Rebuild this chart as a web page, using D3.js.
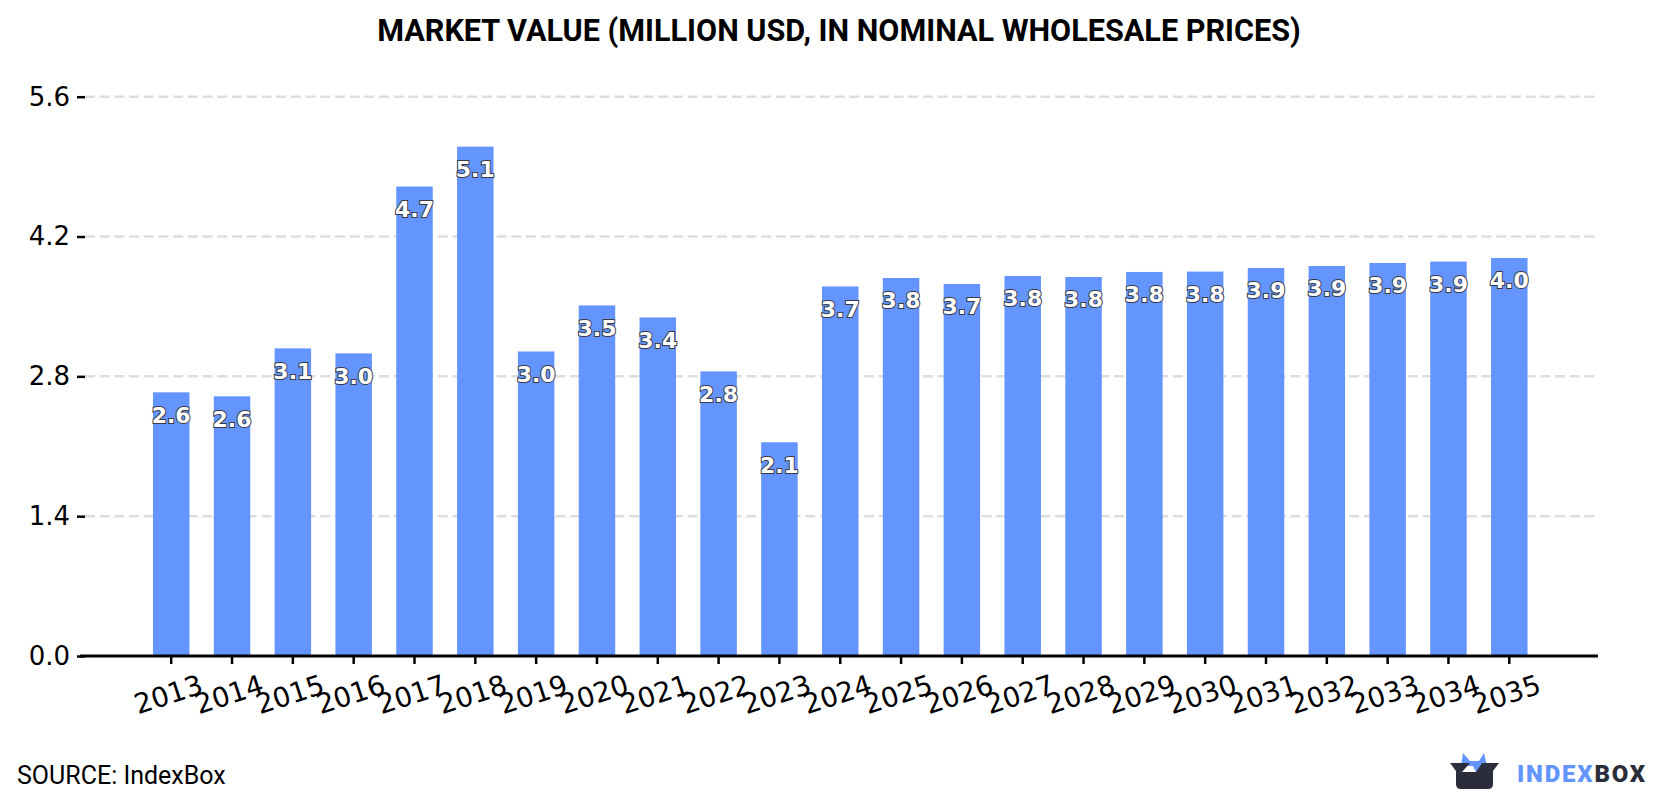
<!DOCTYPE html>
<html>
<head>
<meta charset="utf-8">
<script src="https://cdn.jsdelivr.net/npm/d3@7"></script>
<style>
  html, body { margin: 0; padding: 0; background: #fff; }
  svg { display: block; }
  .tick-label { font-family: "DejaVu Sans", sans-serif; fill: #000; }
  .bar-label { font-family: "DejaVu Sans", sans-serif; font-weight: 700; font-size: 22px;
               fill: #fff; stroke: #3a3a44; stroke-width: 2px; paint-order: stroke; }
</style>
</head>
<body>
<svg id="chart" width="1680" height="800"></svg>
<script>
const years = [2013, 2014, 2015, 2016, 2017, 2018, 2019, 2020, 2021, 2022, 2023, 2024,
               2025, 2026, 2027, 2028, 2029, 2030, 2031, 2032, 2033, 2034, 2035];
const marketValue = [2.64, 2.60, 3.08, 3.03, 4.70, 5.10, 3.049, 3.51, 3.39, 2.849, 2.14, 3.70,
                     3.785, 3.725, 3.805, 3.795, 3.845, 3.849, 3.885, 3.905, 3.935, 3.949, 3.985];
const yTicks = [0, 1.4, 2.8, 4.2, 5.6];
const titleText = "MARKET VALUE (MILLION USD, IN NOMINAL WHOLESALE PRICES)";
const sourceText = "SOURCE: IndexBox";

const svg = d3.select("#chart");
const fmt = d3.format(".1f");

const x = d3.scaleBand()
  .domain(years)
  .range([140.8, 1539.7])
  .paddingInner(0.4)
  .paddingOuter(0.2);

const y = d3.scaleLinear().domain([0, 5.6]).range([656, 96.7]);

const plotLeft = 85, plotRight = 1597;

// Dashed horizontal gridlines sit behind the bars
svg.append("g").selectAll("line")
  .data(yTicks.filter(d => d > 0))
  .join("line")
  .attr("x1", plotLeft).attr("x2", plotRight)
  .attr("y1", d => y(d)).attr("y2", d => y(d))
  .attr("stroke", "#dedede")
  .attr("stroke-width", 2.5)
  .attr("stroke-dasharray", "10 4.7");

// Bars
svg.append("g").selectAll("rect")
  .data(marketValue)
  .join("rect")
  .attr("x", (d, i) => x(years[i]))
  .attr("width", x.bandwidth())
  .attr("y", d => y(d))
  .attr("height", d => y(0) - y(d))
  .attr("fill", "#6495ff");

// Left axis
const yAxis = svg.append("g")
  .attr("transform", `translate(${plotLeft},0)`)
  .call(d3.axisLeft(y).tickValues(yTicks).tickFormat(fmt).tickSize(8).tickPadding(7));
yAxis.select(".domain").remove();
yAxis.selectAll(".tick line").attr("stroke", "#000").attr("stroke-width", 2.5);
yAxis.selectAll(".tick text")
  .attr("class", "tick-label")
  .style("font-size", "26px")
  .attr("fill", "#000");

// Bottom axis with slanted year labels
const xAxis = svg.append("g")
  .attr("transform", `translate(0,${y(0)})`)
  .call(d3.axisBottom(x).tickSize(8).tickSizeOuter(0).tickPadding(0));
xAxis.select(".domain").remove();
xAxis.selectAll(".tick line").attr("stroke", "#000").attr("stroke-width", 2.5);
xAxis.selectAll(".tick text")
  .attr("class", "tick-label")
  .style("font-size", "27.5px")
  .attr("dy", null)
  .attr("text-anchor", "middle")
  .attr("dominant-baseline", "central")
  .attr("transform", "translate(-3,38) rotate(-18)")
  .attr("y", 0);
xAxis.append("line")
  .attr("x1", 80).attr("x2", plotRight + 1)
  .attr("stroke", "#000").attr("stroke-width", 3);

// Value labels inside each bar
svg.append("g").selectAll("text")
  .data(marketValue)
  .join("text")
  .attr("class", "bar-label")
  .attr("x", (d, i) => x(years[i]) + x.bandwidth() / 2)
  .attr("y", d => y(d) + 23)
  .attr("text-anchor", "middle")
  .attr("dominant-baseline", "central")
  .text(d => fmt(d));

// Title and source note
svg.append("text")
  .attr("x", 839).attr("y", 41)
  .attr("text-anchor", "middle")
  .style("font-family", "Roboto, sans-serif")
  .style("font-weight", 700)
  .style("font-size", "30.6px")
  .attr("fill", "#000")
  .text(titleText);

svg.append("text")
  .attr("x", 17).attr("y", 784)
  .style("font-family", "Roboto, sans-serif")
  .style("font-size", "25px")
  .attr("fill", "#000")
  .text(sourceText);

// IndexBox brand mark: blue crown rising out of a dark box
const logo = svg.append("g");
logo.append("path")
  .attr("d", "M1461 766 L1463 753 L1470 761 L1479 761 L1484 753 L1487 766 L1486 772 L1476 772 L1473 766 Z")
  .attr("fill", "#6495ff");
logo.append("path")
  .attr("d", "M1450 763 L1470 763 L1462 772 L1476 772 L1482 763 L1499 763 L1493 771 L1493 784 Q1493 789 1488 789 L1461 789 Q1456 789 1456 784 L1456 771 Z")
  .attr("fill", "#2b2d3a");
const brand = svg.append("text")
  .attr("x", 1517).attr("y", 782)
  .style("font-family", "Roboto, sans-serif")
  .style("font-weight", 900)
  .style("font-size", "24px")
  .style("letter-spacing", "1.8px");
brand.append("tspan").attr("fill", "#6495ff").text("INDEX");
brand.append("tspan").attr("fill", "#2b2d3a").text("BOX");
</script>
</body>
</html>
